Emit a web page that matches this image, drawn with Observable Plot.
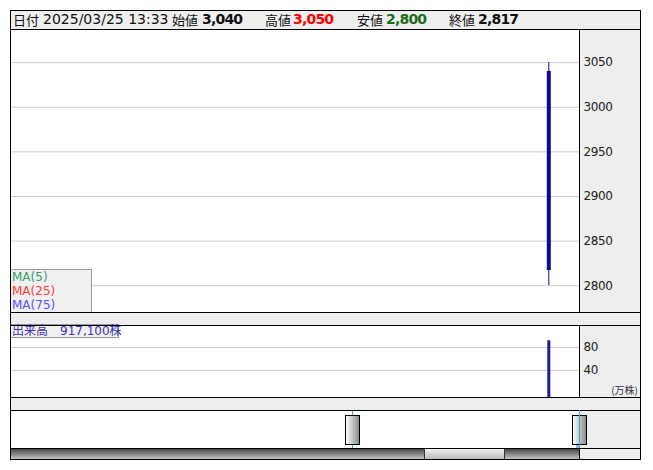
<!DOCTYPE html>
<html>
<head>
<meta charset="utf-8">
<script src="https://cdn.jsdelivr.net/npm/d3@7"></script>
<script src="https://cdn.jsdelivr.net/npm/@observablehq/plot@0.6"></script>
<style>
  html, body { margin: 0; padding: 0; background: #fff; }
  #root { position: relative; width: 653px; height: 470px; overflow: hidden; font-family: "DejaVu Sans", "Noto Sans CJK JP", sans-serif; }
  .abs { position: absolute; box-sizing: border-box; }
  .txt { position: absolute; white-space: nowrap; line-height: 19px; top: 10px; }
  .jp { font-family: "Noto Sans CJK JP", sans-serif; font-size: 13px; color: #111; }
  .num { font-family: "DejaVu Sans", sans-serif; font-size: 14px; color: #111; }
  .val { font-family: "DejaVu Sans", sans-serif; font-size: 14px; font-weight: bold; color: #111; letter-spacing: -0.8px; }
  svg { overflow: visible; }
</style>
</head>
<body>
<div id="root"></div>
<script>
// ---- data ----
const dates = ["2025/03/25"];
const times = ["13:33"];
const opens = [3040];
const highs = [3050];
const lows = [2800];
const closes = [2817];
const volumes = [91.71];          // 万株
const volumeShares = [917100];    // 株
const priceTicks = [2800, 2850, 2900, 2950, 3000, 3050];
const volumeTicks = [40, 80];
const maLabels = ["MA(5)", "MA(25)", "MA(75)"];
const maColors = ["#3a9a6a", "#ff3c3c", "#5a50ff"];

const candles = dates.map((d, i) => ({i, date: d, open: opens[i], high: highs[i], low: lows[i], close: closes[i], vol: volumes[i]}));
const last = candles.length - 1;
const fmt = d3.format(",");

const root = document.getElementById("root");
function box(x, y, w, h, style) {
  const el = document.createElement("div");
  el.className = "abs";
  Object.assign(el.style, {left: x + "px", top: y + "px", width: w + "px", height: h + "px"}, style || {});
  root.appendChild(el);
  return el;
}
function text(x, cls, str, color, top) {
  const el = document.createElement("div");
  el.className = "txt " + cls;
  el.style.left = x + "px";
  if (top !== undefined) el.style.top = top + "px";
  if (color) el.style.color = color;
  el.textContent = str;
  root.appendChild(el);
  return el;
}

// backgrounds
box(10, 10, 631, 450, {background: "#eeeeee"});
box(10, 29, 569, 283, {background: "#ffffff"});
box(10, 325, 569, 72, {background: "#ffffff"});
box(10, 410, 569, 38, {background: "#ffffff"});

// scrollbar
box(10, 448, 414, 11, {background: "linear-gradient(#3a3a3a, #c4c4c4)"});
box(424, 448, 81, 11, {background: "linear-gradient(#f6f6f6, #bcbcbc)", borderLeft: "1px solid #333", borderRight: "1px solid #333"});
box(505, 448, 74, 11, {background: "linear-gradient(#3a3a3a, #c4c4c4)"});

// navigator range lines and handles
box(352, 410, 1, 38, {background: "#33aadd"});
box(345, 415, 15, 30, {background: "linear-gradient(90deg, #ffffff, #8c8c8c)", border: "1px solid #000"});
box(576, 441, 3, 7, {background: "#aab0dd"});
box(572, 415, 15, 30, {background: "linear-gradient(90deg, #ffffff, #8c8c8c)", border: "1px solid #000"});

// header text
text(13, "jp", "日付");
text(43, "num", dates[last] + " " + times[last]);
text(172, "jp", "始値");
text(202, "val", fmt(opens[last]));
text(265, "jp", "高値");
text(293, "val", fmt(highs[last]), "#ff0000");
text(357, "jp", "安値");
text(386, "val", fmt(lows[last]), "#1a6e1a");
text(449, "jp", "終値");
text(478, "val", fmt(closes[last]));

const axisStyle = {background: "transparent", fontSize: "12px", fontFamily: "DejaVu Sans", color: "#222", letterSpacing: "-0.4px"};

// main price chart
const main = Plot.plot({
  width: 629, height: 282,
  marginLeft: 0, marginRight: 61, marginTop: 0, marginBottom: 0,
  x: {domain: [-70, 4], axis: null},
  y: {domain: [2770, 3086], axis: "right", ticks: priceTicks, tickSize: 0, tickPadding: 4, tickFormat: d => String(d), label: null},
  style: axisStyle,
  marks: [
    Plot.ruleY(priceTicks, {stroke: "#cccccc"}),
    Plot.ruleX(candles, {x: "i", y1: "low", y2: "high", stroke: "#0a0a9a", strokeWidth: 1}),
    Plot.ruleX(candles, {x: "i", y1: "open", y2: "close", stroke: "#0a0a9a", strokeWidth: 4})
  ]
});
const mainWrap = box(11, 30, 629, 282);
mainWrap.appendChild(main);

// volume chart
const vol = Plot.plot({
  width: 629, height: 71,
  marginLeft: 0, marginRight: 61, marginTop: 0, marginBottom: 0,
  x: {domain: [-70, 4], axis: null},
  y: {domain: [-7, 116.5], axis: "right", ticks: volumeTicks, tickSize: 0, tickPadding: 4, tickFormat: d => String(d), label: null},
  style: axisStyle,
  marks: [
    Plot.ruleY(volumeTicks, {stroke: "#cccccc"}),
    Plot.ruleX(candles, {x: "i", y1: "vol", y2: 0, stroke: "#1c1ca0", strokeWidth: 3, insetBottom: -4})
  ]
});
const volWrap = box(11, 326, 629, 71);
volWrap.appendChild(vol);

// unit label
const unit = box(596, 383, 42, 14, {fontSize: "10px", color: "#334", textAlign: "right", lineHeight: "14px", fontFamily: "'Noto Sans CJK JP', sans-serif"});
unit.textContent = "(万株)";

// MA legend
const ma = box(10, 269, 82, 44, {background: "#f0f0f0", border: "1px solid #999", fontSize: "12px", lineHeight: "14px", paddingLeft: "1px"});
maLabels.forEach((l, k) => {
  const s = document.createElement("div");
  s.style.color = maColors[k];
  s.textContent = l;
  ma.appendChild(s);
});

// volume legend
const vl = box(10, 324, 109, 14, {background: "#f0f0f0", border: "1px solid #999", fontSize: "12px", lineHeight: "12px", color: "#3a36b0", whiteSpace: "nowrap", paddingLeft: "1px"});
vl.textContent = "出来高\u3000" + fmt(volumeShares[last]) + "株";

// border lines
const K = "#000";
[10, 29, 312, 325, 397, 410, 448, 459].forEach(y => box(10, y, 631, 1, {background: K}));
box(10, 10, 1, 450, {background: K});
box(640, 10, 1, 450, {background: K});
box(579, 29, 1, 283, {background: K});
box(579, 325, 1, 72, {background: K});
box(579, 410, 1, 50, {background: K});
box(579, 410, 1, 38, {background: "#33aadd"});
</script>
</body>
</html>
